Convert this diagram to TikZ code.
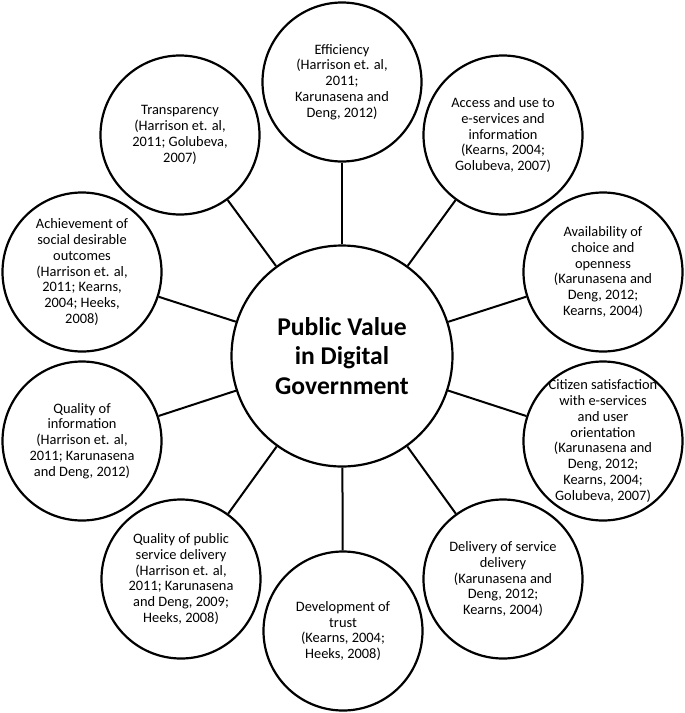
\documentclass[tikz,border=0pt]{standalone}
\usepackage{fontspec}
\setmainfont{Carlito}
\begin{document}
\begin{tikzpicture}[x=1pt,y=-1pt,
  outer/.style={circle,draw=black,line width=2.2pt,minimum size=159pt,inner sep=0pt,fill=white},
  hub/.style={circle,draw=black,line width=2.2pt,minimum size=221pt,inner sep=0pt,fill=white},
  txt/.style={align=center,inner sep=0pt,text=black,font=\fontsize{14.4}{15.8}\selectfont},
  hubtxt/.style={align=center,inner sep=0pt,text=black,font=\fontsize{25.6}{29.5}\selectfont\bfseries},
  conn/.style={draw=black,line width=2pt}]
\useasboundingbox (0,0) rectangle (685,713);
\node[hub] (c) at (342,356) {};
\node[outer] (eff) at (342,82) {};
\node[outer] (tra) at (180,135) {};
\node[outer] (acc) at (503,135) {};
\node[outer] (ach) at (82,272) {};
\node[outer] (ava) at (603,272) {};
\node[outer] (qinf) at (82,441) {};
\node[outer] (cit) at (603,441) {};
\node[outer] (qps) at (181,579) {};
\node[outer] (del) at (503,579) {};
\node[outer] (dev) at (343,631) {};
\foreach \n in {eff,tra,acc,ach,ava,qinf,cit,qps,del,dev}
  \draw[conn] (c) -- (\n);
\node[hubtxt] (c-t) at (c.center) {Public Value\\in Digital\\Government};
\node[txt] (eff-t) at (eff.center) {Efficiency\\(Harrison et. al,\\2011;\\Karunasena and\\Deng, 2012)};
\node[txt] (tra-t) at (tra.center) {Transparency\\(Harrison et. al,\\2011; Golubeva,\\2007)};
\node[txt] (acc-t) at (acc.center) {Access and use to\\e-services and\\information\\(Kearns, 2004;\\Golubeva, 2007)};
\node[txt] (ach-t) at (ach.center) {Achievement of\\social desirable\\outcomes\\(Harrison et. al,\\2011; Kearns,\\2004; Heeks,\\2008)};
\node[txt] (ava-t) at (ava.center) {Availability of\\choice and\\openness\\(Karunasena and\\Deng, 2012;\\Kearns, 2004)};
\node[txt] (qinf-t) at (qinf.center) {Quality of\\information\\(Harrison et. al,\\2011; Karunasena\\and Deng, 2012)};
\node[txt] (cit-t) at (cit.center) {Citizen satisfaction\\with e-services\\and user\\orientation\\(Karunasena and\\Deng, 2012;\\Kearns, 2004;\\Golubeva, 2007)};
\node[txt] (qps-t) at (qps.center) {Quality of public\\service delivery\\(Harrison et. al,\\2011; Karunasena\\and Deng, 2009;\\Heeks, 2008)};
\node[txt] (del-t) at (del.center) {Delivery of service\\delivery\\(Karunasena and\\Deng, 2012;\\Kearns, 2004)};
\node[txt] (dev-t) at (dev.center) {Development of\\trust\\(Kearns, 2004;\\Heeks, 2008)};
\end{tikzpicture}
\end{document}
